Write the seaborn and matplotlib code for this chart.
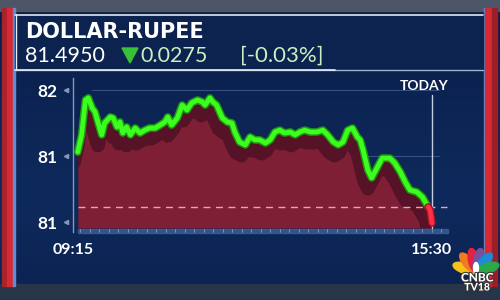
import numpy as np
import pandas as pd
import matplotlib
matplotlib.use("Agg")
import matplotlib.pyplot as plt
import seaborn as sns
from matplotlib.patches import Rectangle, Polygon, Ellipse
from matplotlib import patheffects as pe

# ---------------- data ----------------
title = "DOLLAR-RUPEE"
last_price = "81.4950"
change = "0.0275"
change_pct = "[-0.03%]"

# minutes after 09:15
minutes = [5, 9, 13, 16, 20, 23, 26, 30, 33, 39, 42, 46, 49, 52, 56, 60, 65, 70,
           75, 80, 86, 91, 96, 99, 103, 109, 114, 119, 124, 130, 135, 138, 143,
           146, 150, 156, 161, 166, 169, 174, 180, 185, 190, 195, 201, 206, 211,
           216, 221, 227, 232, 237, 242, 248, 255, 261, 266, 272, 277, 282, 287,
           292, 297, 300, 303, 308, 312, 318, 323, 331, 336, 342, 347, 352, 359,
           365, 368, 371, 373, 375]
rate = [81.665, 81.730, 81.862, 81.870, 81.832, 81.817, 81.779, 81.730, 81.775,
        81.798, 81.794, 81.760, 81.779, 81.737, 81.760, 81.730, 81.756, 81.737,
        81.748, 81.756, 81.756, 81.767, 81.779, 81.798, 81.767, 81.794, 81.843,
        81.824, 81.851, 81.862, 81.855, 81.843, 81.870, 81.855, 81.843, 81.794,
        81.779, 81.775, 81.741, 81.703, 81.692, 81.722, 81.711, 81.711, 81.699,
        81.711, 81.741, 81.748, 81.737, 81.741, 81.730, 81.741, 81.748, 81.741,
        81.741, 81.748, 81.730, 81.703, 81.692, 81.703, 81.748, 81.756, 81.722,
        81.711, 81.673, 81.597, 81.567, 81.608, 81.642, 81.642, 81.624, 81.589,
        81.552, 81.521, 81.514, 81.495, 81.476, 81.457, 81.445, 81.396]
prev_close = 81.457

y_ticks = [81.90, 81.65, 81.40]
y_tick_labels = ["82", "81", "81"]
x_ticks = [0, 375]
x_tick_labels = ["09:15", "15:30"]

df = pd.DataFrame({"minute": minutes, "rate": rate})

# ---------------- style ----------------
sns.set_theme(style="dark")
plt.rcParams["font.family"] = ["Lato", "DejaVu Sans"]

W, H = 500, 300
fig = plt.figure(figsize=(5, 3), dpi=100)
fig.patch.set_facecolor("#0b2250")

# background / decoration axes in pixel coordinates
bg = fig.add_axes([0, 0, 1, 1], zorder=0)
bg.set_xlim(0, W)
bg.set_ylim(H, 0)
bg.axis("off")

grad = np.linspace(0, 1, 256).reshape(-1, 1)
cmap = matplotlib.colors.LinearSegmentedColormap.from_list(
    "navy", ["#0a1c44", "#0c2453", "#0e2a5c", "#0b2250"])
bg.imshow(grad, extent=[0, W, H, 0], aspect="auto", cmap=cmap, zorder=0)

# top and bottom grey strips
bg.add_patch(Rectangle((0, 0), W, 11, color="#4d5667", zorder=1))
bg.add_patch(Rectangle((0, 284), W, 16, color="#283448", zorder=1))
# red side bars
bg.add_patch(Rectangle((2, 8), 5, 278, color="#a8232c", zorder=2))
bg.add_patch(Rectangle((7, 8), 6, 278, color="#d62a32", zorder=2))
bg.add_patch(Rectangle((13, 8), 1.5, 278, color="#5d8ed6", zorder=2))
bg.add_patch(Rectangle((483.5, 8), 1.5, 278, color="#5d8ed6", zorder=2))
bg.add_patch(Rectangle((485, 8), 7, 278, color="#d62a32", zorder=2))
bg.add_patch(Rectangle((492, 8), 5, 278, color="#9b1f28", zorder=2))

# header box
bg.add_patch(Rectangle((15, 14), 468, 56, color="#0c2350", zorder=2))
bg.plot([15, 483], [14.5, 14.5], color="#dfe6f2", lw=1.2, zorder=3)
bg.plot([15, 483], [70, 70], color="#9fb2d4", lw=1.0, zorder=3)
bg.plot([15, 335], [70, 70], color="#e8eef8", lw=1.2, zorder=3)
bg.plot([15.5, 15.5], [14, 70], color="#e8eef8", lw=1.0, zorder=3)

bg.text(25, 31.5, title, color="white", fontsize=15, fontweight="bold",
        family=["DejaVu Sans"], va="center", ha="left", zorder=4)
bg.text(25, 56, last_price, color="white", fontsize=15.5,
        va="center", ha="left", zorder=4)
bg.add_patch(Polygon([[122, 48], [138, 48], [130, 63]], closed=True,
                     color="#37c237", zorder=4))
bg.text(140, 56, change, color="#c9efc2", fontsize=15.5,
        va="center", ha="left", zorder=4)
bg.text(240, 56, change_pct, color="#c9efc2", fontsize=16,
        va="center", ha="left", zorder=4)

# TODAY label
bg.text(424, 86, "TODAY", color="white", fontsize=10, fontweight="bold",
        va="center", ha="center", zorder=4)

# x-axis bar
bg.add_patch(Rectangle((78, 229), 370, 4, color="#3d5f96", alpha=0.8, zorder=2))
for xx in np.arange(80, 446, 9.5):
    bg.plot([xx, xx], [229, 232], color="#8ea8d0", lw=0.5, zorder=3)

# logo
cx, cy = 476, 272
feathers = ["#f5c11d", "#f27b21", "#e2233d", "#7b4f9d", "#1d8bd6", "#2aa84a"]
angles = [-162, -130, -102, -78, -50, -18]
for col, ang in zip(feathers, angles):
    a = np.deg2rad(ang)
    ex = cx + 12 * np.cos(a)
    ey = cy + 12 * np.sin(a)
    bg.add_patch(Ellipse((ex, ey), 24, 10, angle=ang, color=col, zorder=5))
bg.add_patch(Ellipse((cx, cy - 4), 5, 11, color="white", zorder=6))
bg.text(477, 278, "CNBC", color="white", fontsize=8.5, fontweight="black",
        ha="center", va="center", zorder=6,
        path_effects=[pe.withStroke(linewidth=1.5, foreground="#333")])
bg.text(477, 288, "TV18", color="white", fontsize=7.5, fontweight="black",
        ha="center", va="center", zorder=6,
        path_effects=[pe.withStroke(linewidth=1.5, foreground="#333")])

# ---------------- main chart ----------------
px_l, px_r, px_t, px_b = 73, 450, 78, 232
ax = fig.add_axes([px_l / W, 1 - px_b / H, (px_r - px_l) / W, (px_b - px_t) / H],
                  zorder=3)
ax.set_facecolor("none")
xmax = 375 * (px_r - px_l) / (432 - px_l)
ymin = 81.90 - (px_b - 90) / 264
ymax = 81.90 - (px_t - 90) / 264
ax.set_xlim(0, xmax)
ax.set_ylim(ymin, ymax)

floor = 81.90 - (228 - 90) / 264

# faint grid
for yt in y_ticks[:2]:
    ax.axhline(yt, xmin=0.05, xmax=0.97, color="#3a5488", lw=0.7, zorder=0)

poly = ax.fill_between(df["minute"], df["rate"], floor, color="#7e1f36",
                       lw=0, zorder=1)
# 3D shadow under the line
sh, = ax.plot(df["minute"] - 4, df["rate"] - 0.04, color="#561328", lw=10,
              zorder=2, solid_joinstyle="round")
sh.set_clip_path(poly.get_paths()[0], transform=ax.transData)

# prev close dashed line
ax.plot([5, xmax - 3], [prev_close, prev_close], color="#e7a4b6", lw=1.0,
        dashes=(5, 4), zorder=3)

green = df[df["minute"] <= 371]
red = df[df["minute"] >= 371]
sns.lineplot(data=green, x="minute", y="rate", ax=ax, color="#3dff1f", lw=3.4,
             zorder=5, estimator=None, sort=False,
             path_effects=[pe.Stroke(linewidth=5.5, foreground="#1f9a12"), pe.Normal()])
sns.lineplot(data=red, x="minute", y="rate", ax=ax, color="#ff3046", lw=3.4,
             zorder=5, estimator=None, sort=False,
             path_effects=[pe.Stroke(linewidth=5.5, foreground="#a01525"), pe.Normal()])

# TODAY vertical line
ax.plot([375, 375], [floor, 81.90 - (95 - 90) / 264], color="#c4cde0", lw=1.0,
        zorder=4)

for s in ["top", "right", "bottom"]:
    ax.spines[s].set_visible(False)
ax.spines["left"].set_color("#8597bb")
ax.spines["left"].set_linewidth(1.0)

ax.set_yticks(y_ticks)
ax.set_yticklabels(y_tick_labels)
ax.set_xticks(x_ticks)
ax.set_xticklabels(x_tick_labels)
ax.tick_params(axis="y", length=0, pad=11, labelcolor="white", labelsize=12.5)
ax.tick_params(axis="x", length=0, pad=8, labelcolor="white", labelsize=11.5)
for lab in ax.get_yticklabels() + ax.get_xticklabels():
    lab.set_fontweight("bold")
ax.set_xlabel("")
ax.set_ylabel("")
ax.grid(False)

# minor ticks on y axis
minor = np.arange(ymin + 0.02, ymax, 0.045)
ax.set_yticks(minor, minor=True)
ax.tick_params(axis="y", which="minor", length=3, color="#8597bb", width=0.6,
               direction="out")
# small triangles next to labels
ax.plot([-7] * 3, y_ticks, marker="<", ms=3, ls="none", color="#8597bb",
        clip_on=False, zorder=6)

fig.savefig("out.png", dpi=100, facecolor=fig.get_facecolor())
